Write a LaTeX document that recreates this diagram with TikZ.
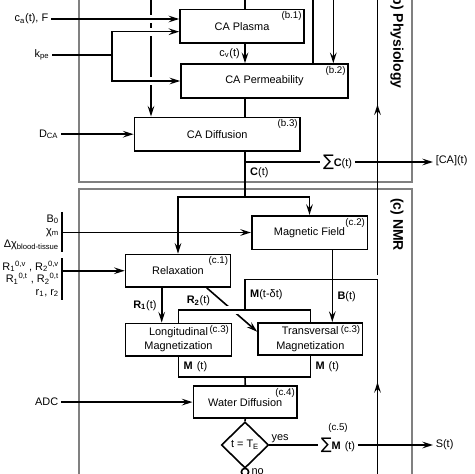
\documentclass[tikz,border=0pt]{standalone}
\usepackage{fontspec}
\setmainfont{Liberation Sans}
\newfontfamily\sumfont{DejaVu Sans}
\usetikzlibrary{arrows.meta,shapes.geometric,decorations.markings,calc}
\tikzstyle{block}     =[draw,rectangle,align=center,inner sep=1pt,font=\fontsize{8.2}{11}\selectfont]
\tikzstyle{boxtag}    =[anchor=north east,inner sep=1.8pt,font=\fontsize{7.3}{8}\selectfont]
\tikzstyle{inlabel}   =[align=right,inner sep=1.5pt,font=\fontsize{8.2}{9.4}\selectfont]
\tikzstyle{panelframe}=[draw=gray,line width=1.9pt]
\tikzstyle{paneltitle}=[rotate=-90,anchor=west,inner sep=1pt,font=\fontsize{10.5}{12}\selectfont\bfseries]
\tikzstyle{arr}       =[-{Stealth[length=8pt,width=5pt,inset=3pt]}]
\tikzstyle{crossgap}  =[draw=white,line width=3.5pt]
\tikzset{midarrow/.style={postaction={decorate},decoration={markings,
  mark=at position #1 with {\arrow{Stealth[length=8pt,width=5pt,inset=3pt]}}}}}

\begin{document}
\begin{tikzpicture}[x=0.75pt,y=-0.75pt,very thick,font=\fontsize{8.2}{9.6}\selectfont]
\useasboundingbox[fill=white] (0,0) rectangle (474,474);
% panels
\draw[panelframe] (79,-10) rectangle (412,182);
\draw[panelframe] (79,189) rectangle (412,490);
\node[paneltitle] at (397,-10) {(b) Physiology};
\node[paneltitle] at (397,196) {(c) NMR};

% (b) physiology
\node[block,minimum width=93pt,minimum height=25.1pt] (plasma) at (242,26.25) {CA Plasma};
\node[boxtag] at (plasma.north east) {(b.1)};
\node[block,minimum width=125.3pt,minimum height=25.5pt] (perm) at (264.5,81) {CA Permeability};
\node[boxtag] at (perm.north east) {(b.2)};
\node[block,minimum width=124.3pt,minimum height=25.3pt] (cadiff) at (217.2,134.2) {CA Diffusion};
\node[boxtag] at (cadiff.north east) {(b.3)};

\node[inlabel,anchor=east] (ca) at (51,19) {c\textsubscript{a}(t), F};
\node[inlabel,anchor=east] (kpe) at (52,55) {k\textsubscript{pe}};
\node[inlabel,anchor=east] (dca) at (61,134.2) {D\textsubscript{CA}};

\coordinate (ksplit) at (112,55);
\coordinate (cain) at ($(plasma.west)+(0,-7.25)$);
\coordinate (kin) at ($(plasma.west)+(0,5.45)$);
\coordinate (dtop) at (151,-10);
\coordinate (ptop) at (245,-10);
\coordinate (ltop) at (313,-10);
\coordinate (rtop) at (333.3,-10);

\draw[arr] (dtop) -- (dtop |- cadiff.north);
\foreach \crossat in {cain,kin,perm.west}
  \draw[crossgap] (dtop |- \crossat) ++(0,-4) -- ++(0,8);
\draw[arr] (ca.east) -- (cain);
\draw (kpe.east) -- (ksplit);
\draw[arr] (ksplit) |- (kin);
\draw[arr] (ksplit) |- (perm.west);
\draw[arr] (dca.east) -- (cadiff.west);

\draw (ptop) -- (ptop |- plasma.north);
\draw (ltop) -- (ltop |- perm.north);
\draw[arr] (rtop) -- (rtop |- perm.north);
\draw[arr] (ptop |- plasma.south) -- node[left] {c\textsubscript{v}(t)} (ptop |- perm.north);
\draw (ptop |- perm.south) -- (ptop |- cadiff.north);

% concentration out
\coordinate (csum) at (245,162);
\coordinate (csplit) at (245,196.7);
\node[inner sep=1.5pt] (sumc) at (337.5,162) {{\sumfont\large ∑}\textbf{C}(t)};
\node[inlabel,anchor=west] (caout) at (433,161) {[CA](t)};
\node[right] (clab) at (245,173) {\textbf{C}(t)};
\draw (ptop |- cadiff.south) -- (csplit);
\draw (csum) -- (sumc.west);
\draw[arr] (sumc.east) -- (sumc.east -| caout.west);

% (c) NMR
\node[block,minimum width=78.8pt,minimum height=24.4pt] (relax) at (178,270.75) {Relaxation};
\node[boxtag] at (relax.north east) {(c.1)};
\node[block,minimum width=86.7pt,minimum height=25.2pt] (magfield) at (309.5,232.5) {Magnetic Field};
\node[boxtag] at (magfield.north east) {(c.2)};
\node[block,minimum width=79.3pt,minimum height=24.5pt] (longmag) at (178.5,339.7) {Longitudinal\\Magnetization};
\node[boxtag] at (longmag.north east) {(c.3)};
\node[block,minimum width=78.5pt,minimum height=24.2pt] (transmag) at (310.3,338.9) {Transversal\\Magnetization};
\node[boxtag] at (transmag.north east) {(c.3)};
\node[block,minimum width=77.9pt,minimum height=24.2pt] (waterdiff) at (245.25,402.1) {Water Diffusion};
\node[boxtag] at (waterdiff.north east) {(c.4)};
\node[draw,diamond,minimum width=35.5pt,minimum height=34.7pt,inner sep=0pt] (check) at (245,445) {t = T\textsubscript{E}};

\draw[arr] (csplit) -| (relax.north);
\draw[arr] (csplit) -| (magfield.north);

\node[inlabel,anchor=east] (fieldin) at (61.7,232) {B\textsubscript{0}\\χ\textsubscript{m}\\Δχ\textsubscript{blood-tissue}};
\draw (fieldin.north east) -- (fieldin.south east);
\draw[arr] (fieldin.east |- magfield.west) -- (magfield.west);
\node[inlabel,anchor=east] (relaxin) at (61.7,279) {R\textsubscript{1}\textsuperscript{0,v} , R\textsubscript{2}\textsuperscript{0,v}\\R\textsubscript{1}\textsuperscript{0,t} , R\textsubscript{2}\textsuperscript{0,t}\\r\textsubscript{1}, r\textsubscript{2}};
\draw (relaxin.north east) -- (relaxin.south east);
\draw[arr] (relaxin.east |- relax.west) -- (relax.west);

\coordinate (r1) at ($(relax.south)+(-16.3,0)$);
\coordinate (r2a) at ($(relax.south)+(28.7,0)$);
\coordinate (r2b) at ($(transmag.west)+(0,-7.2)$);
\draw[arr] (r1) -- node[left] {\textbf{R\textsubscript{1}}(t)} (r1 |- longmag.north);
\draw[arr] (r2a) -- node[pos=0.3,anchor=east,xshift=-5pt] {\textbf{R\textsubscript{2}}(t)} (r2b);
\draw[arr] (magfield.south -| 332.3,0) -- node[pos=0.65,right] {\textbf{B}(t)} (332.3,0 |- transmag.north);

% magnetization loop
\coordinate (mturn) at (245,279.3);
\coordinate (mjoin) at (245,310);
\coordinate (mleft) at (longmag.north |- mjoin);
\coordinate (mright) at (transmag.north |- mjoin);
\coordinate (mbot) at (245,376.7);
\coordinate (fbbot) at (377.5,490);
\coordinate (fbtop) at (377.5,275);
\coordinate (fbend) at (377.5,-10);
\coordinate (r2x) at (intersection of r2a--r2b and mleft--mright);
\draw[crossgap,line width=6pt] ($(r2x)+(-6,0)$) -- ($(r2x)+(6,0)$);
\draw[midarrow=81pt] (fbbot) |- (mturn) -- node[right] {\textbf{M}(t-δt)} (mjoin);
\draw (longmag.north) -- (mleft) -- (mright) -- (transmag.north);
\draw[midarrow=128pt] (fbtop) -- (fbend);
\draw (longmag.south) -- node[right] {\textbf{M}\hspace{3pt}(t)} (longmag.south |- mbot) -- (transmag.south |- mbot) -- node[right] {\textbf{M}\hspace{3pt}(t)} (transmag.south);
\draw (mbot) -- (waterdiff.north);

\node[inlabel,anchor=east] (adc) at (61,402.1) {ADC};
\draw[arr] (adc.east) -- (waterdiff.west);
\draw (waterdiff.south) -- (check.north);

% signal
\node[inner sep=1.5pt] (summ) at (338,445) {{\sumfont\large ∑}\textbf{M}\hspace{3pt}(t)};
\node[anchor=south,inner sep=1pt,font=\fontsize{7.3}{8}\selectfont] at (summ.north) {(c.5)};
\node[inlabel,anchor=west] (sout) at (433,445) {S(t)};
\draw (check.east) -- node[pos=0,anchor=south west,inner sep=1pt] {yes} (summ.west);
\draw[arr] (summ.east) -- (sout.west);
\node[draw,circle,inner sep=0pt,minimum size=5.5pt] (nojoin) at (245,472) {};
\draw (check.south) -- (nojoin.north);
\node[anchor=west,inner sep=1pt] at (nojoin.east) {no};
\end{tikzpicture}
\end{document}
